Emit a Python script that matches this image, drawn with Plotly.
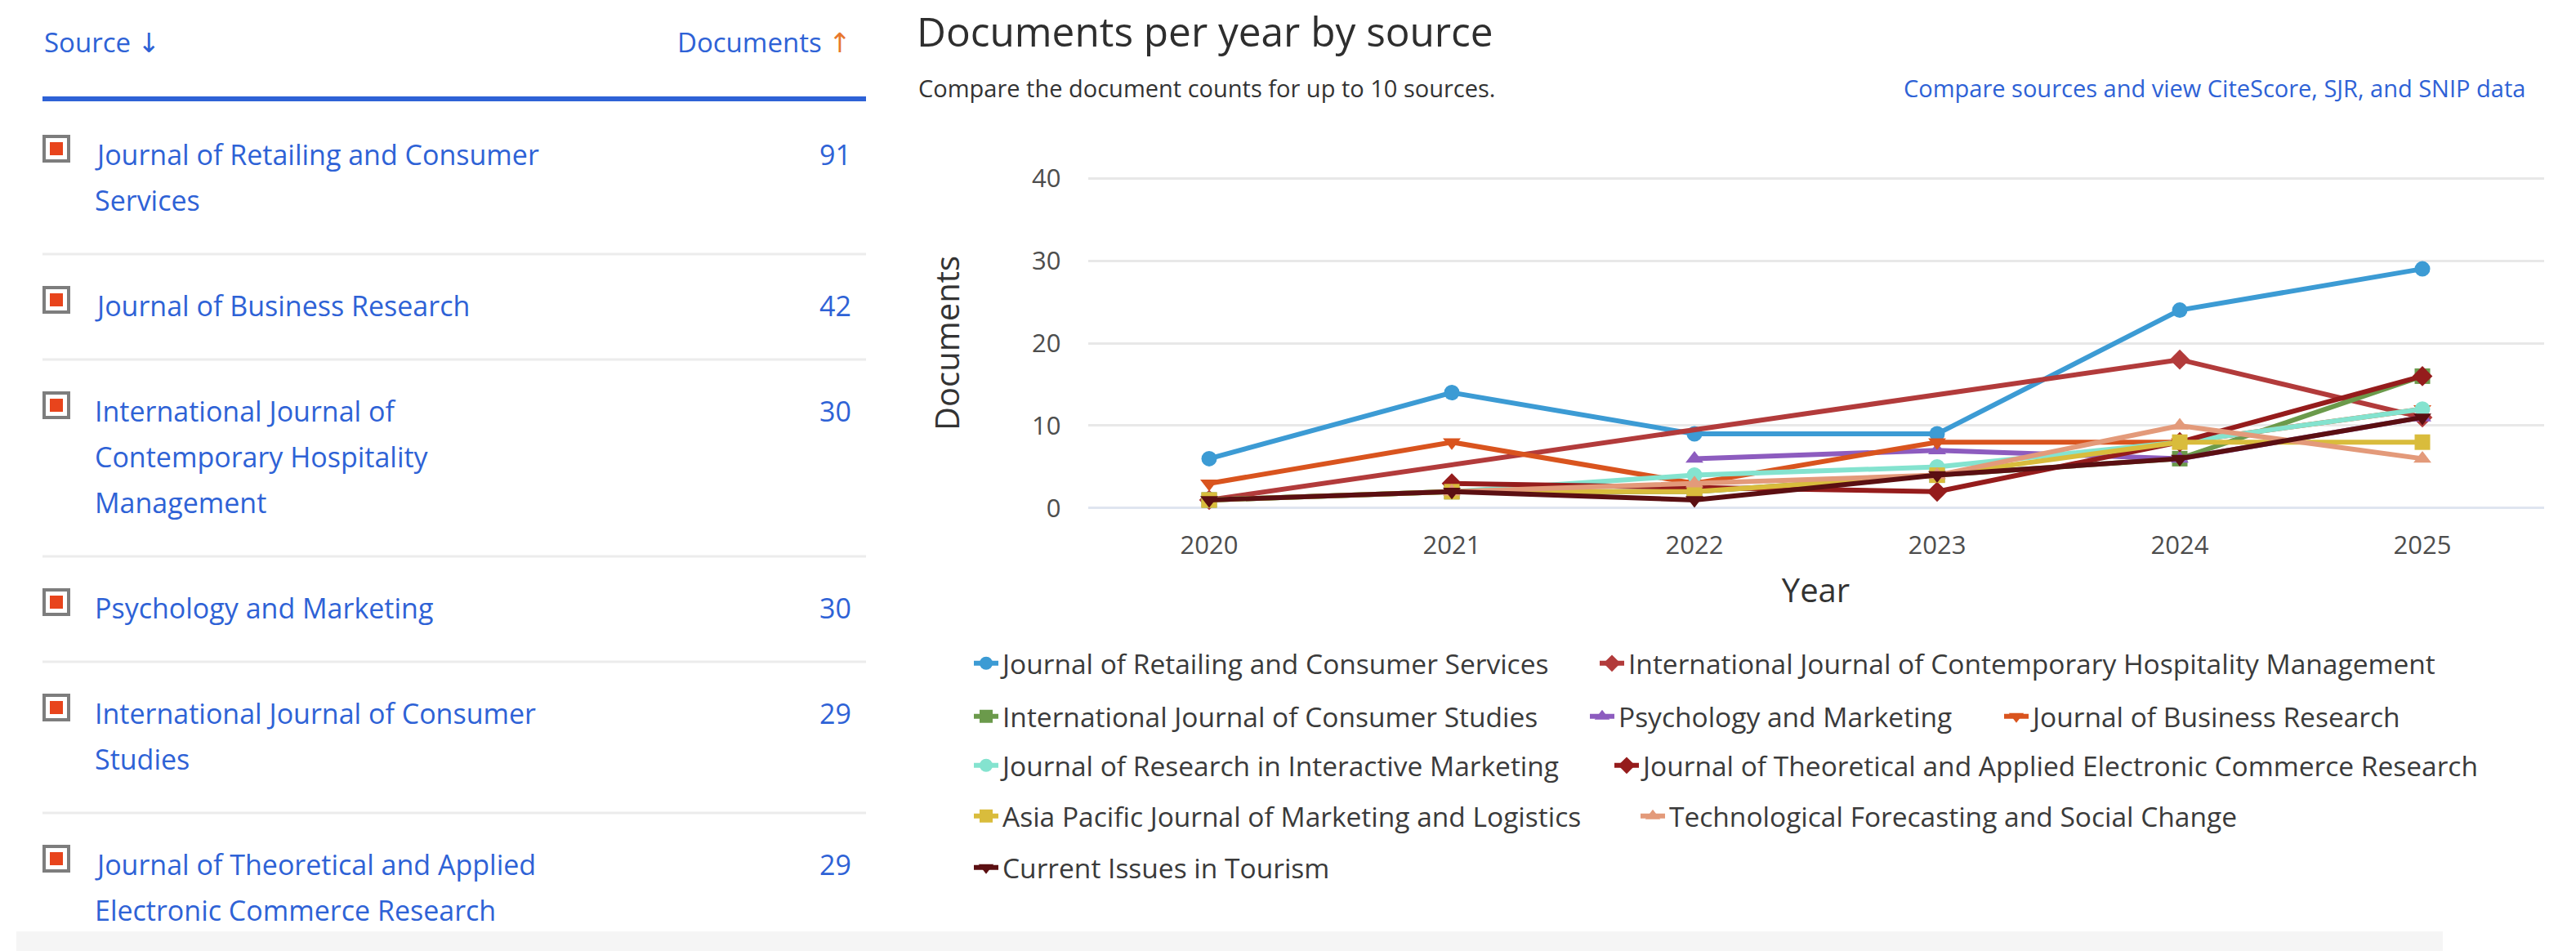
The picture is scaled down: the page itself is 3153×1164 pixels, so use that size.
import plotly.graph_objects as go

# ---------------- data ----------------
years = [2020, 2021, 2022, 2023, 2024, 2025]

series_names = [
    "Journal of Retailing and Consumer Services",
    "International Journal of Contemporary Hospitality Management",
    "International Journal of Consumer Studies",
    "Psychology and Marketing",
    "Journal of Business Research",
    "Journal of Research in Interactive Marketing",
    "Journal of Theoretical and Applied Electronic Commerce Research",
    "Asia Pacific Journal of Marketing and Logistics",
    "Technological Forecasting and Social Change",
    "Current Issues in Tourism",
]
jrcs = [6, 14, 9, 9, 24, 29]
ijchm = [1, None, None, None, 18, 11]
ijcs = [1, 2, 2, 4, 6, 16]
psym = [None, None, 6, 7, 6, 11]
jbr = [3, 8, 3, 8, 8, 12]
jrim = [1, 2, 4, 5, 8, 12]
jtaecr = [None, 3, None, 2, 8, 16]
apjml = [1, 2, 2, 4, 8, 8]
tfsc = [None, 2, 3, 4, 10, 6]
cit = [1, 2, 1, 4, 6, 11]
series_values = [jrcs, ijchm, ijcs, psym, jbr, jrim, jtaecr, apjml, tfsc, cit]

y_ticks = [0, 10, 20, 30, 40]

table_lines = [
    ["Journal of Retailing and Consumer", "Services"],
    ["Journal of Business Research"],
    ["International Journal of", "Contemporary Hospitality", "Management"],
    ["Psychology and Marketing"],
    ["International Journal of Consumer", "Studies"],
    ["Journal of Theoretical and Applied", "Electronic Commerce Research"],
]
table_docs = [91, 42, 30, 30, 29, 29]

# ---------------- styles ----------------
W, H = 3153, 1164
FONT = "Open Sans"
BLUE = "#2e62d6"
colors = ["#3c9bd4", "#b23b3b", "#6b9a4b", "#8d5cbf", "#d9541e",
          "#84e3cf", "#951c1c", "#d9bc3c", "#e39a7a", "#5b0f12"]
symbols = ["circle", "diamond", "square", "triangle-up", "triangle-down",
           "circle", "diamond", "square", "triangle-up", "triangle-down"]
# legend item text-start x and row centre y (px)
legend_pos = [(1227, 812), (1993, 812),
              (1227, 877), (1981, 877), (2488, 877),
              (1227, 937), (2011, 937),
              (1227, 999), (2043, 999),
              (1227, 1062)]


def px(x):
    return x / W


def py(y):
    return 1 - y / H


fig = go.Figure()

for i, (name, vals) in enumerate(zip(series_names, series_values)):
    lg = "legend" if i == 0 else f"legend{i + 1}"
    fig.add_trace(go.Scatter(
        x=years, y=vals, name=name, mode="lines+markers",
        connectgaps=True,
        line=dict(color=colors[i], width=6),
        marker=dict(symbol=symbols[i], size=19, color=colors[i]),
        legend=lg,
    ))

layout = dict(
    width=W, height=H,
    margin=dict(l=0, r=0, t=0, b=0, autoexpand=False),
    paper_bgcolor="white", plot_bgcolor="white",
    font=dict(family=FONT, color="#333333"),
    title=dict(text="Documents per year by source", x=px(1122), xanchor="left",
               y=py(40), yanchor="middle", xref="paper", yref="paper",
               font=dict(family=FONT, size=49.5, color="#2e2e2e")),
    xaxis=dict(
        domain=[px(1331.5), px(3113.5)], range=[2019.5, 2025.5],
        tickvals=years, ticktext=[str(y) for y in years],
        showgrid=False, zeroline=False, showline=False,
        ticks="", ticklabelstandoff=22, automargin=False,
        tickfont=dict(family=FONT, size=31, color="#4d4d4d"),
        title=dict(text="Year", standoff=22,
                   font=dict(family=FONT, size=40, color="#333333")),
        fixedrange=True,
    ),
    yaxis=dict(
        domain=[py(624), py(216)], range=[-0.2, 40.2],
        tickvals=y_ticks,
        showgrid=True, gridcolor="#e8e8e8", gridwidth=3,
        zeroline=True, zerolinecolor="#dfe5f0", zerolinewidth=3,
        showline=False, ticks="", automargin=False,
        ticklabelstandoff=32,
        tickfont=dict(family=FONT, size=31, color="#4d4d4d"),
        title=dict(text="Documents", standoff=76,
                   font=dict(family=FONT, size=40, color="#333333")),
        fixedrange=True,
    ),
    showlegend=True,
)

for i, (tx, ty) in enumerate(legend_pos):
    key = "legend" if i == 0 else f"legend{i + 1}"
    layout[key] = dict(
        x=px(tx - 40), xanchor="left", y=py(ty), yanchor="middle",
        orientation="h", bgcolor="rgba(0,0,0,0)", borderwidth=0,
        font=dict(family=FONT, size=33.5, color="#3a3a3a"),
        itemclick=False, itemdoubleclick=False,
    )

fig.update_layout(**layout)

annotations = []
shapes = []


def note(text, x, y, anchor, size, color):
    annotations.append(dict(text=text, x=px(x), y=py(y), xref="paper", yref="paper",
                            xanchor=anchor, yanchor="middle", showarrow=False,
                            font=dict(family=FONT, size=size, color=color)))


# subtitle + link
note("Compare the document counts for up to 10 sources.", 1122, 107, "left", 29, "#333333")
note("Compare sources and view CiteScore, SJR, and SNIP data", 3093, 107, "right", 29, BLUE)

# table header
note("Source <span style='font-family:DejaVu Sans'>↓</span>", 52, 52, "left", 33, BLUE)
note("Documents <span style='font-family:DejaVu Sans;color:#e8772e'>↑</span>", 1044, 52, "right", 33, BLUE)
shapes.append(dict(type="line", xref="paper", yref="paper",
                   x0=px(52), x1=px(1060), y0=py(121), y1=py(121),
                   line=dict(color=BLUE, width=6)))

# table rows
y = 189
for r, (lines, docs) in enumerate(zip(table_lines, table_docs)):
    cy = y - 7
    shapes.append(dict(type="rect", xref="paper", yref="paper",
                       x0=px(54), x1=px(84), y0=py(cy + 15), y1=py(cy - 15),
                       line=dict(color="#7d7d7d", width=4), fillcolor="white"))
    shapes.append(dict(type="rect", xref="paper", yref="paper",
                       x0=px(61), x1=px(77), y0=py(cy + 8), y1=py(cy - 8),
                       line=dict(width=0), fillcolor="#e8441c"))
    for k, ln in enumerate(lines):
        note(ln, 114, y + 56 * k, "left", 34, BLUE)
    note(str(docs), 1044, y, "right", 34, BLUE)
    last = y + 56 * (len(lines) - 1)
    sep = last + 66
    if r < len(table_lines) - 1:
        shapes.append(dict(type="line", xref="paper", yref="paper",
                           x0=px(52), x1=px(1060), y0=py(sep), y1=py(sep),
                           line=dict(color="#ececec", width=3)))
    y = sep + 63

# faint page band at bottom
shapes.append(dict(type="rect", xref="paper", yref="paper", layer="below",
                   x0=px(20), x1=px(2990), y0=py(1164), y1=py(1140),
                   line=dict(width=0), fillcolor="#f5f5f5"))

fig.update_layout(annotations=annotations, shapes=shapes)

fig.write_html("out.html", config={"displayModeBar": False})
